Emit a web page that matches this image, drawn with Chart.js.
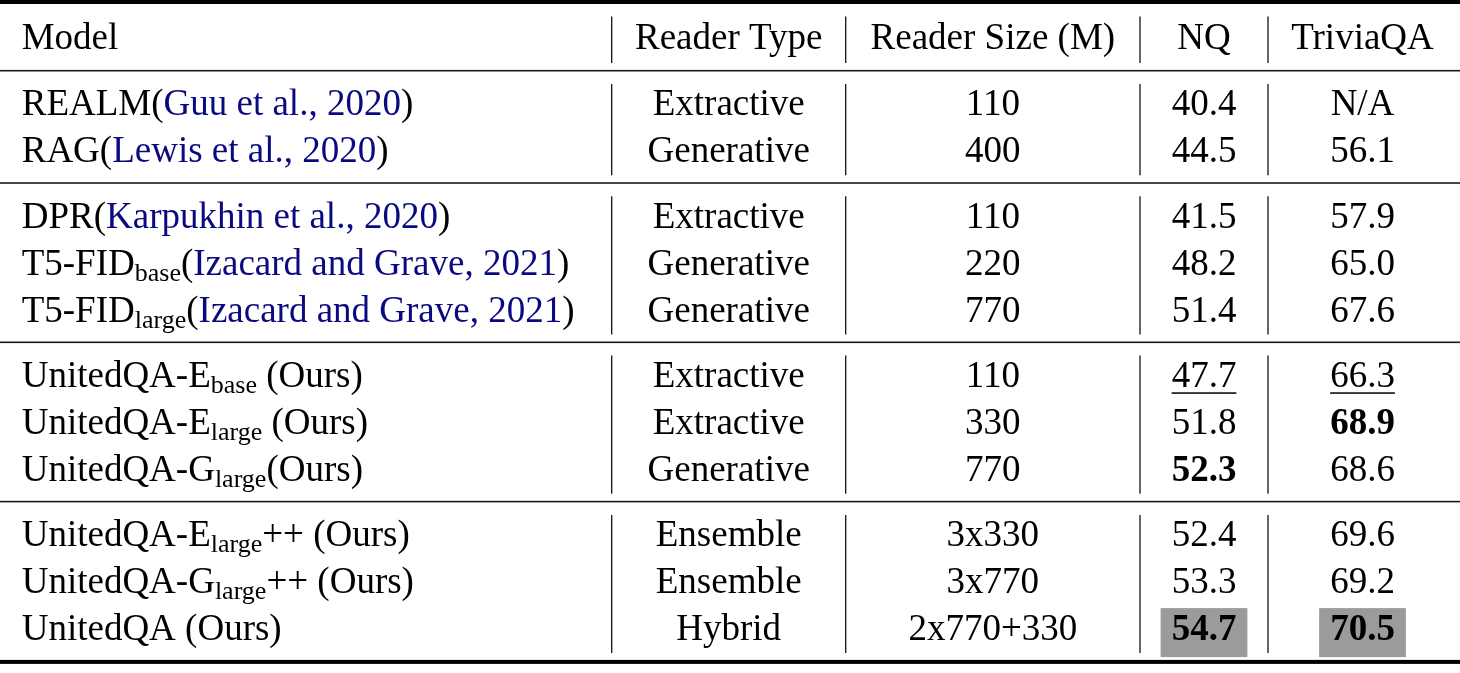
<!DOCTYPE html>
<html>
<head>
<meta charset="utf-8">
<script src="https://cdn.jsdelivr.net/npm/chart.js@4.4.0/dist/chart.umd.min.js"></script>
<style>
  html, body { margin: 0; padding: 0; background: #fff; }
  #wrap { width: 1460px; height: 673px; }
</style>
</head>
<body>
<div id="wrap"><canvas id="tabla" width="1460" height="673" style="width:1460px;height:673px"></canvas></div>
<script>
// Datos de la tabla
const columns = ['Model', 'Reader Type', 'Reader Size (M)', 'NQ', 'TriviaQA'];
const modelNames = ['REALM', 'RAG', 'DPR', 'T5-FID', 'T5-FID', 'UnitedQA-E', 'UnitedQA-E', 'UnitedQA-G', 'UnitedQA-E', 'UnitedQA-G', 'UnitedQA'];
const modelSubs = ['', '', '', 'base', 'large', 'base', 'large', 'large', 'large', 'large', ''];
const modelSuffix = ['', '', '', '', '', ' (Ours)', ' (Ours)', '(Ours)', '++ (Ours)', '++ (Ours)', ' (Ours)'];
const citations = ['Guu et al., 2020', 'Lewis et al., 2020', 'Karpukhin et al., 2020', 'Izacard and Grave, 2021', 'Izacard and Grave, 2021', '', '', '', '', '', ''];
const readerTypes = ['Extractive', 'Generative', 'Extractive', 'Generative', 'Generative', 'Extractive', 'Extractive', 'Generative', 'Ensemble', 'Ensemble', 'Hybrid'];
const readerSizes = ['110', '400', '110', '220', '770', '110', '330', '770', '3x330', '3x770', '2x770+330'];
const nqScores = [40.4, 44.5, 41.5, 48.2, 51.4, 47.7, 51.8, 52.3, 52.4, 53.3, 54.7];
const triviaScores = [null, 56.1, 57.9, 65.0, 67.6, 66.3, 68.9, 68.6, 69.6, 69.2, 70.5];
const groupSizes = [2, 3, 3, 3];
const nqBold = [7, 10];
const nqUnderline = [5];
const triviaBold = [6, 10];
const triviaUnderline = [5];
const highlightRows = [10];

// Disposicion (pixeles del lienzo)
const W = 1460, H = 673;
const colEdges = [0, 611.7, 845.7, 1140, 1268, 1457];
const modelPadLeft = 21.7;
const topRuleY = 2, thickRule = 4, thinRule = 1.6;
const headerBaseline = 49, headRuleY = 70.7;
const rowPitch = 47, ruleToBaseline = 44.5, baselineToRule = 20.8;
const fontFamily = '"Liberation Serif", "Times New Roman", serif';
const fontSize = 37, subSize = 26, subShift = 6;
const citeColor = '#0a0a80';
const boxColor = '#9b9b9b';

// posiciones de filas y reglas
const rowBaselines = [];
const ruleYs = [headRuleY];
let yy = headRuleY;
groupSizes.forEach(n => {
  yy += ruleToBaseline;
  for (let k = 0; k < n; k++) {
    rowBaselines.push(yy);
    if (k < n - 1) yy += rowPitch;
  }
  yy += baselineToRule;
  ruleYs.push(yy);
});

const colAnchors = columns.map((c, j) => j === 0 ? modelPadLeft : (colEdges[j] + colEdges[j + 1]) / 2);

function fmt(v) { return v == null ? 'N/A' : v.toFixed(1); }

function cellSegments(j, i) {
  if (j === 0) {
    const s = [{ text: modelNames[i] }];
    if (modelSubs[i]) s.push({ text: modelSubs[i], sub: true });
    if (citations[i]) s.push({ text: '(' }, { text: citations[i], color: citeColor }, { text: ')' });
    if (modelSuffix[i]) s.push({ text: modelSuffix[i] });
    return s;
  }
  if (j === 1) return [{ text: readerTypes[i] }];
  if (j === 2) return [{ text: readerSizes[i] }];
  if (j === 3) return [{ text: fmt(nqScores[i]), bold: nqBold.includes(i) }];
  return [{ text: fmt(triviaScores[i]), bold: triviaBold.includes(i) }];
}

function fontFor(seg) {
  return (seg.bold ? 'bold ' : '') + (seg.sub ? subSize : fontSize) + 'px ' + fontFamily;
}

const tablePlugin = {
  id: 'tablePlugin',
  afterDatasetsDraw(chart) {
    const ctx = chart.ctx;
    const xs = chart.scales.x, ys = chart.scales.y;
    const x0 = xs.getPixelForValue(0), x1 = xs.getPixelForValue(W);
    ctx.save();

    // reglas horizontales
    ctx.fillStyle = '#000';
    const tTop = ys.getPixelForValue(topRuleY);
    ctx.fillRect(x0, tTop - thickRule / 2, x1 - x0, thickRule);
    ruleYs.forEach((r, k) => {
      const py = ys.getPixelForValue(r);
      if (k === ruleYs.length - 1) {
        ctx.fillRect(x0, py - 1, x1 - x0, thickRule);
      } else {
        ctx.fillStyle = '#1a1a1a';
        ctx.fillRect(x0, py - thinRule / 2, x1 - x0, thinRule);
        ctx.fillStyle = '#000';
      }
    });

    // separadores verticales
    const bounds = [topRuleY + thickRule / 2].concat(ruleYs.map(r => r + thinRule / 2));
    ctx.strokeStyle = '#111';
    ctx.lineWidth = 1.3;
    for (let b = 0; b < ruleYs.length; b++) {
      const ya = ys.getPixelForValue(bounds[b] + 12.5);
      const yb = ys.getPixelForValue(ruleYs[b] - thinRule / 2 - 7);
      for (let j = 1; j < columns.length; j++) {
        const px = xs.getPixelForValue(colEdges[j]);
        ctx.beginPath();
        ctx.moveTo(px, ya);
        ctx.lineTo(px, yb);
        ctx.stroke();
      }
    }

    // texto de celdas
    ctx.textBaseline = 'alphabetic';
    ctx.textAlign = 'left';
    chart.data.datasets.forEach((ds, j) => {
      const meta = chart.getDatasetMeta(j);
      meta.data.forEach((pt, idx) => {
        const segs = idx === 0 ? [{ text: columns[j] }] : cellSegments(j, idx - 1);
        const i = idx - 1;
        let total = 0;
        segs.forEach(s => { ctx.font = fontFor(s); s.w = ctx.measureText(s.text).width; total += s.w; });
        let sx = j === 0 ? pt.x : pt.x - total / 2;
        const by = pt.y;
        if (idx > 0 && j >= 3 && highlightRows.includes(i)) {
          ctx.fillStyle = boxColor;
          ctx.fillRect(sx - 11, by - 32, total + 22, 49);
        }
        segs.forEach(s => {
          ctx.font = fontFor(s);
          ctx.fillStyle = s.color || '#000';
          ctx.fillText(s.text, sx, by + (s.sub ? subShift : 0));
          sx += s.w;
        });
        const under = (j === 3 && nqUnderline.includes(i)) || (j === 4 && triviaUnderline.includes(i));
        if (idx > 0 && under) {
          ctx.fillStyle = '#000';
          ctx.fillRect(sx - total, by + 5.5, total, 1.5);
        }
      });
    });
    ctx.restore();
  }
};

const datasets = columns.map((c, j) => ({
  label: c,
  data: [headerBaseline].concat(rowBaselines).map(b => ({ x: colAnchors[j], y: b })),
  pointRadius: 0,
  pointHoverRadius: 0,
  showLine: false
}));

new Chart(document.getElementById('tabla').getContext('2d'), {
  type: 'scatter',
  data: { datasets },
  options: {
    responsive: false,
    animation: false,
    devicePixelRatio: 1,
    layout: { padding: 0 },
    events: [],
    scales: {
      x: { type: 'linear', min: 0, max: W, display: false },
      y: { type: 'linear', min: 0, max: H, reverse: true, display: false }
    },
    plugins: { legend: { display: false }, tooltip: { enabled: false } }
  },
  plugins: [tablePlugin]
});
</script>
</body>
</html>
